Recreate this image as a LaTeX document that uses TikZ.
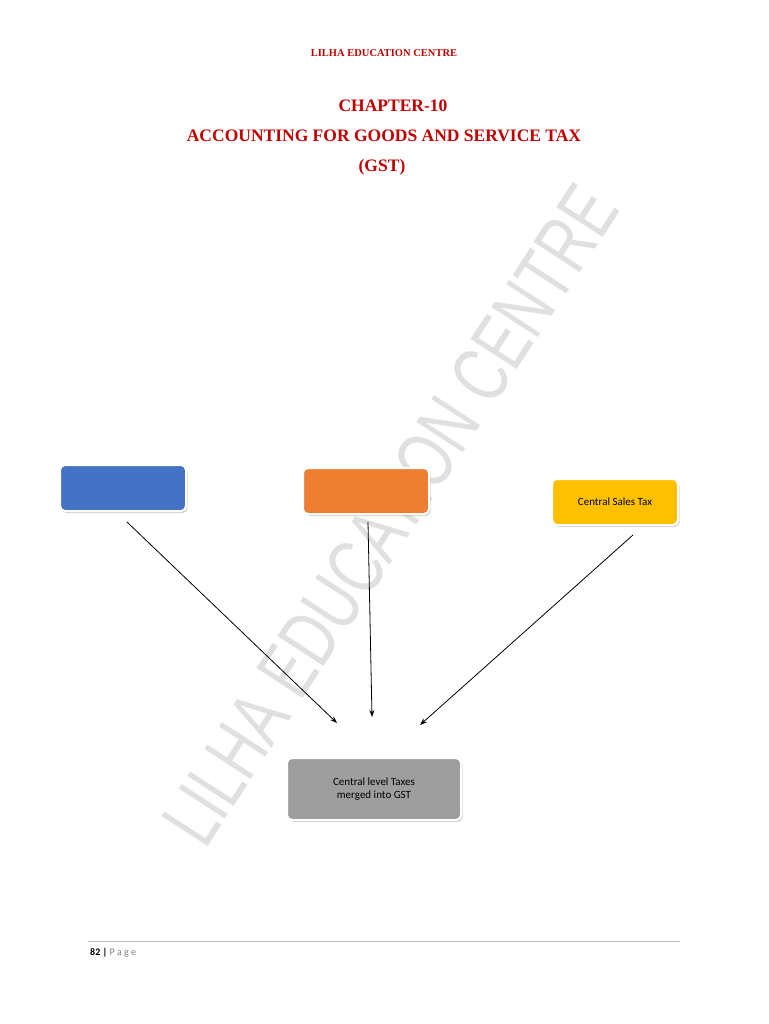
\documentclass[tikz,border=0pt]{standalone}
\usepackage{fontspec}
\setmainfont{Liberation Serif}
\newfontfamily\calfnt{Carlito}
\usetikzlibrary{arrows.meta,shadows}
\definecolor{tred}{HTML}{C00000}
\definecolor{cblue}{HTML}{4472C4}
\definecolor{corange}{HTML}{ED7D31}
\definecolor{cyellow}{HTML}{FFC000}
\begin{document}
\begin{tikzpicture}[x=1pt,y=-1pt,
 box/.style={draw=white,line width=2pt,rounded corners=5pt,minimum height=46pt,minimum width=126pt,font=\calfnt\fontsize{11}{13}\selectfont,align=center,drop shadow={shadow xshift=1.5pt,shadow yshift=-2pt,opacity=0.35}},
 arr/.style={-{Stealth[length=7pt,width=5pt]},line width=0.8pt}]
\useasboundingbox (0,0) rectangle (768,1024);
\fill[white] (0,0) rectangle (768,1024);
\node[rotate=57,text=black!12,font=\fontspec{Liberation Sans}\fontsize{80}{80}\selectfont,xscale=0.72] (wm) at (390,515) {LILHA EDUCATION CENTRE};
\node[text=tred,font=\bfseries\fontsize{10.5}{12}\selectfont] (hd) at (384,53) {LILHA EDUCATION CENTRE};
\node[text=tred,font=\bfseries\fontsize{17.5}{22}\selectfont,align=center] (t1) at (393,106) {CHAPTER-10};
\node[text=tred,font=\bfseries\fontsize{17.5}{22}\selectfont] (t2) at (384,136) {ACCOUNTING FOR GOODS AND SERVICE TAX};
\node[text=tred,font=\bfseries\fontsize{17.5}{22}\selectfont] (t3) at (382,167) {(GST)};
\node[box,fill=cblue] (b1) at (123,488) {};
\node[box,fill=corange] (b2) at (366,491) {};
\node[box,fill=cyellow] (b3) at (615,502) {Central Sales Tax};
\node[box,fill=black!38,minimum width=174pt,minimum height=62pt] (g) at (374,789) {Central level Taxes\\merged into GST};
\coordinate (a1) at (127,522); \coordinate (e1) at (337,723);
\coordinate (a2) at (368,522); \coordinate (e2) at (372,717);
\coordinate (a3) at (633,535); \coordinate (e3) at (420,725);
\draw[arr] (a1) -- (e1);
\draw[arr] (a2) -- (e2);
\draw[arr] (a3) -- (e3);
\coordinate (l1) at (88,941); \coordinate (l2) at (680,941);
\draw[black!25,line width=0.6pt] (l1) -- (l2);
\node[anchor=west,font=\calfnt\fontsize{10}{12}\selectfont,inner sep=0] (pg) at (90,953) {\textbf{82 |} \textcolor{black!50}{P a g e}};
\end{tikzpicture}
\end{document}
